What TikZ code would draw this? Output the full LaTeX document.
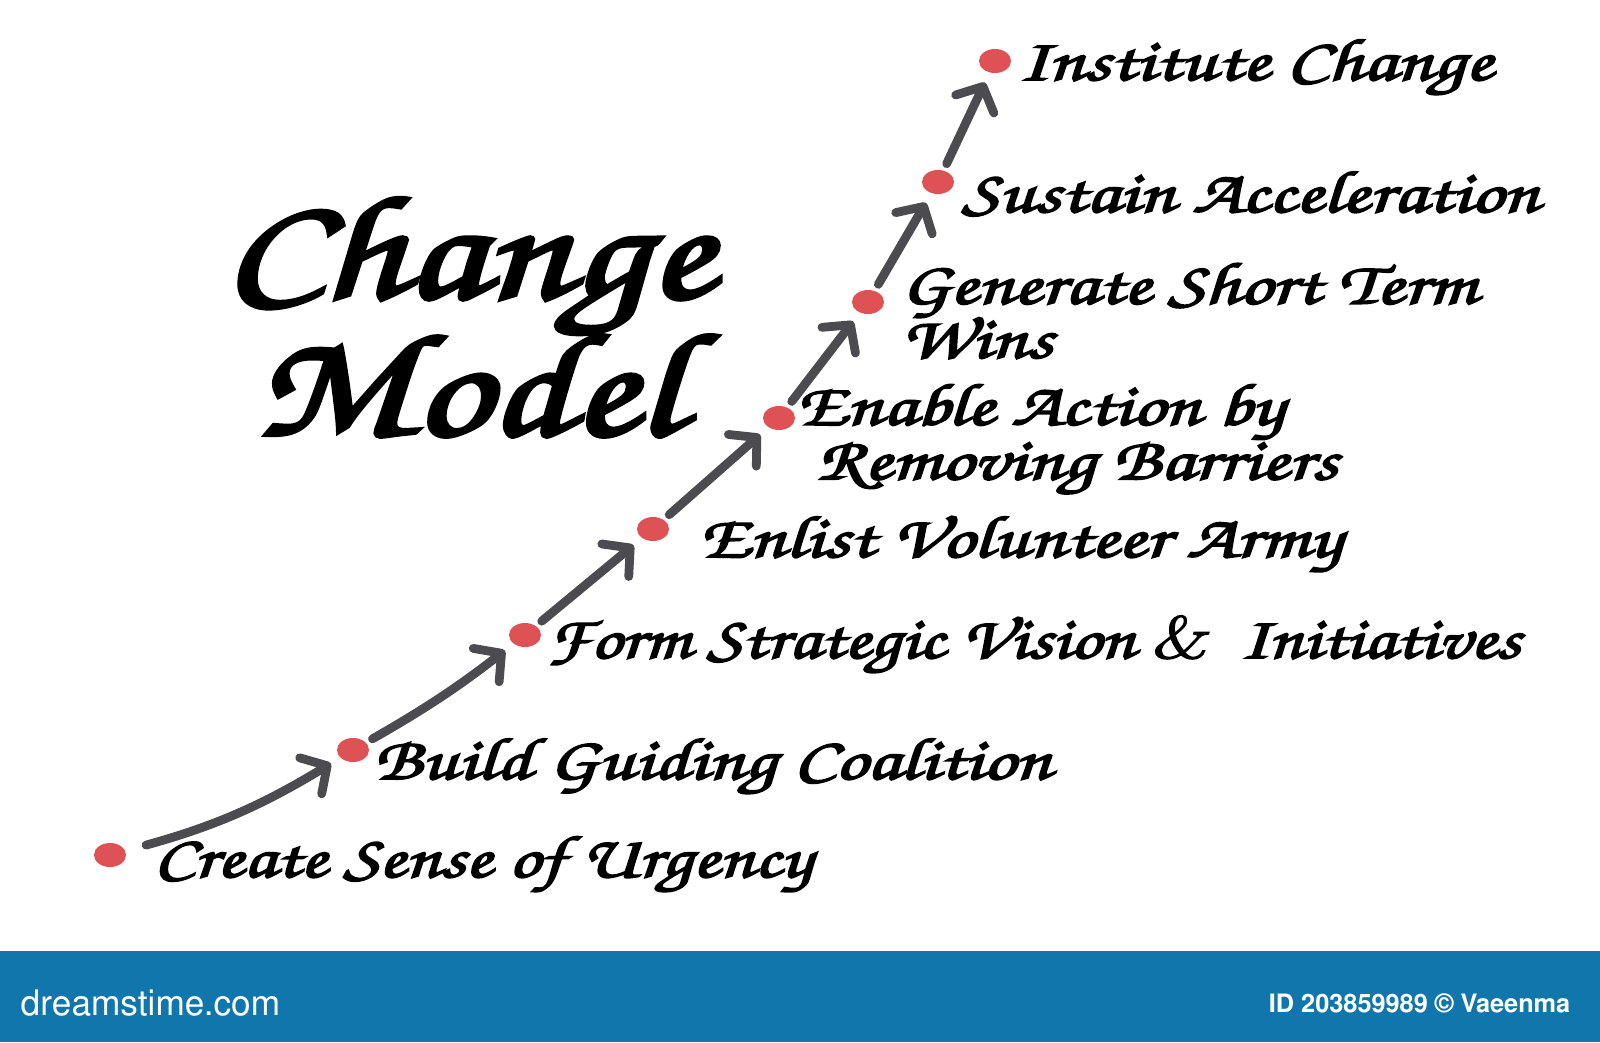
\documentclass[tikz,border=0pt]{standalone}
\usepackage[T1]{fontenc}
\usetikzlibrary{arrows.meta,shapes.geometric}

\definecolor{dotred}{RGB}{222,82,86}
\definecolor{arrowgrey}{RGB}{75,75,80}
\definecolor{barblue}{RGB}{16,118,172}
\newcommand\handfont{\fontencoding{T1}\fontfamily{pzc}\fontseries{mb}\fontshape{it}\selectfont\lineskiplimit=-20pt}
\newcommand\barfont{\fontencoding{T1}\fontfamily{phv}\selectfont}
\newcommand\plainamp{{\fontencoding{TU}\fontfamily{lmr}\fontseries{m}\fontshape{sl}\selectfont\&}}
\newcommand\inkon[1]{\special{pdf:literal direct 2 Tr #1 w}}
\newcommand\inkoff{\special{pdf:literal direct 0 Tr}}

\begin{document}
\begin{tikzpicture}[x=0.01cm,y=-0.01cm]
	\tikzstyle{every node}=[inner sep=0pt]
	\tikzstyle{dot}=[ellipse, fill=dotred, minimum width=32*0.2845pt, minimum height=24*0.2845pt]
	\tikzstyle{stairarrow}=[arrowgrey, line width=2.5pt, line cap=round, shorten <=2pt, shorten >=3pt, -{Straight Barb[length=5.5pt,width=12pt,line cap=round,line join=round]}]
	\tikzstyle{label}=[anchor=west, align=left, font=\handfont\fontsize{17}{14}\selectfont, xscale=1.33, execute at begin node=\inkon{0.45}, execute at end node=\inkoff]
	\tikzstyle{title}=[align=center, font=\handfont\fontsize{42}{39}\selectfont, xscale=1.28, execute at begin node=\inkon{1.1}, execute at end node=\inkoff]

	\useasboundingbox (0,0) rectangle (1600,1042);
	\fill [white] (0,0) rectangle (1600,951);

	%% steps
	\node [dot] (d1) at (110.0000,855.0000) {};
	\node [dot] (d2) at (353.0000,750.0000) {};
	\node [dot] (d3) at (525.0000,635.0000) {};
	\node [dot] (d4) at (653.0000,529.0000) {};
	\node [dot] (d5) at (779.0000,418.0000) {};
	\node [dot] (d6) at (868.0000,302.0000) {};
	\node [dot] (d7) at (938.0000,182.0000) {};
	\node [dot] (d8) at (995.0000,61.0000) {};

	\draw [stairarrow, shorten <=6pt] (d1) to [bend right=8] (d2);
	\draw [stairarrow] (d2) to [bend right=4] (d3);
	\draw [stairarrow] (d3) -- (d4);
	\draw [stairarrow] (d4) -- (d5);
	\draw [stairarrow] (d5) -- (d6);
	\draw [stairarrow] (d6) -- (d7);
	\draw [stairarrow] (d7) -- (d8);

	%% labels
	\node [label, xscale=0.97] (l1) at (153.0000,865.0000) {Create Sense of Urgency};
	\node [label] (l2) at (373.0000,767.0000) {Build Guiding Coalition};
	\node [label, xscale=0.95] (l3) at (546.0000,646.0000) {Form Strategic Vision \plainamp\ \ Initiatives};
	\node [label] (l4) at (699.0000,545.0000) {Enlist Volunteer Army};
	\node [label] (l5) at (796.0000,440.0000) {Enable Action by\\[1.5pt]\hspace*{0.25em}Removing Barriers};
	\node [label] (l6) at (900.0000,310.0000) {Generate Short Term\\[1.4pt]Wins};
	\node [label] (l7) at (961.0000,193.0000) {Sustain Acceleration};
	\node [label] (l8) at (1017.0000,68.0000) {Institute Change};

	\node [title] (t) at (468.0000,315.0000) {Change\\Model};

	%% banner
	\fill [barblue] (0,951) rectangle (1600,1042);
	\node [anchor=west, white, font=\barfont\fontsize{10}{12}\selectfont] (site) at (20.0000,1003.0000) {dreamstime.com};
	\node [anchor=east, white, font=\barfont\bfseries\fontsize{7.2}{9}\selectfont] (id) at (1571.0000,1003.0000) {ID 203859989 \textcopyright{} Vaeenma};
\end{tikzpicture}
\end{document}
